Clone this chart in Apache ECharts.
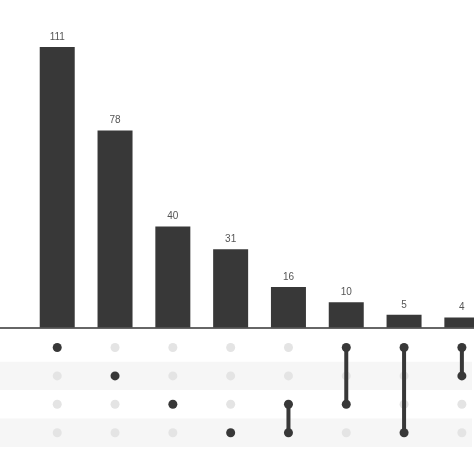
<!DOCTYPE html>
<html lang="en">
<head>
    <meta charset="UTF-8">
    <title>UpSet</title>
    <script src="https://cdn.jsdelivr.net/npm/echarts@6/dist/echarts.min.js"></script>
    <style>
        html, body { margin: 0; padding: 0; background: #fff; }
        #main { width: 474px; height: 474px; }
    </style>
</head>
<body>
    <div id="main"></div>
<script>
    // intersection sizes (one bar per column)
    var counts = [111, 78, 40, 31, 16, 10, 5, 4];
    // which set rows (0 = top) each column belongs to
    var members = [[0], [1], [2], [3], [2, 3], [0, 2], [0, 3], [0, 1]];
    // set rows of the matrix (no labels shown in the picture)
    var sets = ['S1', 'S2', 'S3', 'S4'];

    var dark = '#383838';

    var barData = counts.map(function (v, i) { return [i, v]; });

    var emptyDots = [], fullDots = [];
    members.forEach(function (m, i) {
        sets.forEach(function (s, r) {
            if (m.indexOf(r) >= 0) fullDots.push([i, r]);
            else emptyDots.push([i, r]);
        });
    });

    var series = [{
        type: 'bar',
        xAxisIndex: 0,
        yAxisIndex: 0,
        data: barData,
        barWidth: 35,
        itemStyle: { color: dark },
        label: {
            show: true,
            position: 'top',
            distance: 5,
            color: '#555',
            fontSize: 10,
            fontFamily: 'Liberation Sans',
            formatter: function (p) { return p.value[1]; }
        }
    }, {
        type: 'scatter',
        xAxisIndex: 1,
        yAxisIndex: 1,
        data: emptyDots,
        symbolSize: 9,
        itemStyle: { color: '#e4e4e4', opacity: 1 },
        z: 2
    }];

    // connecting line for every multi-set column
    members.forEach(function (m, i) {
        if (m.length < 2) return;
        series.push({
            type: 'line',
            xAxisIndex: 1,
            yAxisIndex: 1,
            data: [[i, Math.min.apply(null, m)], [i, Math.max.apply(null, m)]],
            symbol: 'none',
            lineStyle: { color: dark, width: 4 },
            z: 3
        });
    });

    series.push({
        type: 'scatter',
        xAxisIndex: 1,
        yAxisIndex: 1,
        data: fullDots,
        symbolSize: 9,
        itemStyle: { color: dark, opacity: 1 },
        z: 4
    });

    var xCommon = {
        type: 'value',
        min: -0.99,
        max: 7.21,
        axisLabel: { show: false },
        axisTick: { show: false },
        splitLine: { show: false }
    };

    var myChart = echarts.init(document.getElementById('main'));
    var option = {
        animation: false,
        grid: [
            { left: 0, right: 0, top: 24.3, height: 303.2 },
            { left: 0, right: 2, top: 333.3, height: 113.6 }
        ],
        xAxis: [
            Object.assign({ gridIndex: 0, axisLine: { show: true, onZero: false, lineStyle: { color: '#333', width: 1.5 } } }, xCommon),
            Object.assign({ gridIndex: 1, axisLine: { show: false } }, xCommon, { max: 7.175 })
        ],
        yAxis: [{
            gridIndex: 0,
            type: 'value',
            min: 0,
            max: 120,
            axisLine: { show: false },
            axisTick: { show: false },
            axisLabel: { show: false },
            splitLine: { show: false }
        }, {
            gridIndex: 1,
            type: 'category',
            data: sets,
            inverse: true,
            axisLine: { show: false },
            axisTick: { show: false },
            axisLabel: { show: false },
            splitLine: { show: false },
            splitArea: { show: true, areaStyle: { color: ['#ffffff', '#f6f6f6'] } }
        }],
        series: series
    };
    myChart.setOption(option);
</script>
</body>
</html>
